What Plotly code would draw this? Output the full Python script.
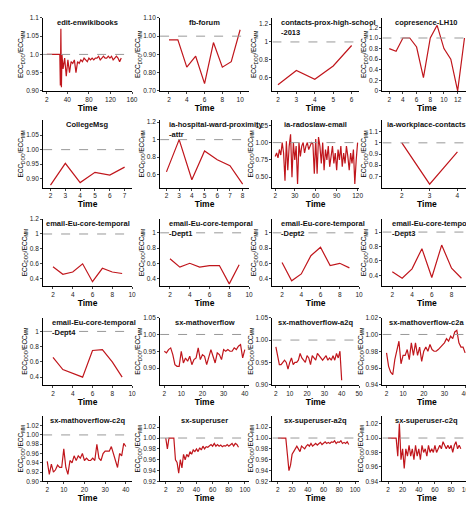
import plotly.graph_objects as go

RED = "#c0161c"

# ---- data ----
wiki_x_head = [2, 26, 27, 28, 29, 30]
wiki_y_head = [1.0, 1.0, 0.915, 1.07, 0.91, 1.0]
wiki_y_tail = [0.96, 0.99, 0.94, 0.985, 0.95, 0.98, 0.975, 0.985, 0.95, 0.98, 0.975, 0.985,
               0.98, 0.99, 0.985, 0.98, 0.99, 0.985, 0.99, 0.985, 0.99, 0.99, 0.995, 0.985,
               0.99, 0.995, 0.99, 0.99, 0.995, 0.99, 0.995, 0.985, 0.99, 0.995, 0.99, 0.98, 0.99]
fb_forum = [0.98, 0.98, 0.83, 0.89, 0.74, 0.965, 0.83, 0.86, 1.035]
contacts = [0.52, 0.68, 0.58, 0.73, 0.96]
copresence = [0.8, 0.75, 1.0, 1.0, 0.83, 0.25, 1.0, 1.24, 0.8, 0.6, 0.0, 1.0]
college = [0.878, 0.953, 0.887, 0.922, 0.913, 0.94]
hospital = [0.63, 1.0, 0.54, 0.87, 0.77, 0.7, 0.49]
radoslaw = [0.8, 0.85, 0.78, 0.9, 0.82, 1.0, 0.85, 0.45, 1.02, 0.6, 0.95, 1.12, 0.5, 1.0, 0.75,
            0.95, 0.4, 1.0, 0.8, 0.95, 1.0, 0.85, 0.95, 1.0, 0.9, 0.95, 1.0, 0.98, 0.55, 1.05,
            0.55, 1.08, 0.95, 0.7, 1.0, 0.6, 0.9, 0.75, 0.95, 0.65, 0.8, 0.95, 0.7, 0.85, 0.6,
            0.9, 0.75, 0.95, 0.65, 0.85, 0.7, 0.95, 0.8, 0.6, 0.85, 0.7, 0.9, 0.4, 0.75, 1.0]
workplace = [1.0, 0.63, 0.92]
eu_core = [0.56, 0.46, 0.49, 0.6, 0.36, 0.54, 0.49, 0.47]
dept1 = [0.66, 0.55, 0.6, 0.55, 0.57, 0.57, 0.33, 0.58]
dept2 = [0.61, 0.37, 0.46, 0.7, 0.81, 0.57, 0.6, 0.54]
dept3 = [0.45, 0.36, 0.49, 0.77, 0.37, 0.82, 0.5, 0.36]
dept4_x = [2, 3, 5, 6, 7, 8, 9]
dept4 = [0.66, 0.5, 0.4, 0.75, 0.76, 0.6, 0.4]
math = [.95, .945, .955, .96, .94, .91, .905, .905, .95, .915, .93, .92, .935, .91, .925, .93,
        .96, .925, .94, .935, .91, .93, .955, .935, .915, .945, .94, .925, .955, .95, .955, .95,
        .95, .96, .955, .965, .97, .93, .955]
math_a2q = [.985, .96, .945, .945, .95, .955, .95, .935, .95, .96, .945, .95, .95, .955, .97, .96,
            .955, .95, .965, .96, .945, .965, .96, .955, .97, .965, .96, .955, .96, .965, .955,
            .96, .955, .965, .955, .97, .96, .975, .91]
math_c2a = [.978, .962, .955, .952, .97, .98, .992, .965, .975, .975, .982, .97, .99, .975, .99,
            .975, .985, .968, .98, .985, .98, .988, .982, .98, .98, .982, .985, .988, .99, .995,
            .992, .998, .995, 1.003, 1.005, .99, .985, .985, .978]
math_c2q = [.943, .915, .937, .92, .925, .935, .93, .93, .97, .93, .915, .945, .94, .955, .945,
            .955, .95, .96, .945, .95, .945, .945, .95, .945, .98, .95, .945, .96, .965, .965,
            .965, .975, .96, .945, .93, .96, .955, .982, .975]
superuser = [1.0, 0.98, 1.0, 1.0, 1.0, 1.0, 0.96, 0.955, 0.935, 0.96, 0.945, 0.97, 0.96, 0.97,
             0.965, 0.975, 0.97, 0.978, 0.975, 0.98, 0.975, 0.982, 0.978, 0.985, 0.98, 0.984,
             0.983, 0.985, 0.988, 0.985, 0.99, 0.985, 0.988, 0.985, 0.987, 0.984, 0.986, 0.985,
             0.988, 0.985, 0.987, 0.99, 0.985, 0.99, 0.988, 0.983]
su_a2q = [1, 1, 1, 1, 1, 1, 0.97, 0.94, 0.95, 0.97, 0.975, 0.98, 0.985, 0.98, 0.975, 0.985,
          0.983, 0.98, 0.985, 0.988, 0.985, 0.99, 0.985, 0.988, 0.99, 0.987, 0.99, 0.992, 0.988,
          0.99, 0.993, 0.99, 0.992, 0.99, 0.993, 0.992, 0.995, 0.99, 0.993, 0.992, 0.995, 0.99,
          0.992, 0.99, 0.993, 0.988]
su_c2q = [1, 1, 1, 1, 1, 1, 0.975, 1.02, 0.97, 0.985, 0.958, 0.985, 0.975, 0.99, 0.975, 0.985,
          0.97, 0.99, 0.975, 0.985, 0.97, 0.99, 0.98, 0.985, 0.975, 0.99, 0.98, 0.985, 0.98, 0.99,
          0.98, 0.985, 0.99, 0.985, 0.995, 0.99, 0.985, 0.99, 0.985, 0.99, 0.98, 0.99, 0.995,
          0.985, 0.99, 0.985]


def steps(y, start=2, step=1):
    return [start + i * step for i in range(len(y))]


wiki_x = wiki_x_head + steps(wiki_y_tail, 32, 3)
wiki_y = wiki_y_head + wiki_y_tail

# (title, x, y, xrange, xticks, yrange, yticks, ytext)
panels = [
    ("edit-enwikibooks", wiki_x, wiki_y, [-5, 160], [2, 40, 80, 120, 160], [0.9, 1.1],
     [0.9, 0.95, 1.0, 1.05, 1.1], ["0.90", "0.95", "1.0", "1.05", "1.1"]),
    ("fb-forum", steps(fb_forum), fb_forum, [1, 11], [2, 4, 6, 8, 10], [0.7, 1.1],
     [0.7, 0.8, 0.9, 1.0, 1.1], ["0.70", "0.80", "0.90", "1.00", "1.10"]),
    ("contacts-prox-high-school<br>-2013", steps(contacts), contacts, [1.7, 6.4], [2, 3, 4, 5, 6],
     [0.45, 1.27], [0.6, 0.8, 1.0, 1.2], None),
    ("copresence-LH10", steps(copresence), copresence, [1, 14], [2, 4, 6, 8, 10, 12, 14],
     [0, 1.38], [0, 0.2, 0.4, 0.6, 0.8, 1.0, 1.2], ["0", "0.2", "0.4", "0.6", "0.8", "1.0", "1.2"]),
    ("CollegeMsg", steps(college), college, [1.5, 7.5], [2, 3, 4, 5, 6, 7], [0.87, 1.1],
     [0.9, 0.95, 1.0, 1.05], ["0.90", "0.95", "1.00", "1.05"]),
    ("ia-hospital-ward-proximity<br>-attr", steps(hospital), hospital, [1.5, 8.5],
     [2, 3, 4, 5, 6, 7, 8], [0.45, 1.22], [0.6, 0.8, 1.0, 1.2], None),
    ("ia-radoslaw-email", steps(radoslaw, 2, 2), radoslaw, [-2, 122], [2, 30, 60, 90, 120],
     [0.35, 1.32], [0.5, 0.75, 1.0, 1.25], ["0.50", "0.75", "1.00", "1.25"]),
    ("ia-workplace-contacts", steps(workplace), workplace, [1.3, 4.5], [2, 3, 4], [0.6, 1.2],
     [0.7, 0.8, 0.9, 1.0, 1.1], None),
    ("email-Eu-core-temporal", steps(eu_core), eu_core, [1, 10], [2, 4, 6, 8, 10], [0.3, 1.2],
     [0.4, 0.6, 0.8, 1.0, 1.2], None),
    ("email-Eu-core-temporal<br>-Dept1", steps(dept1), dept1, [1, 10], [2, 4, 6, 8, 10],
     [0.3, 1.18], [0.4, 0.6, 0.8, 1.0], None),
    ("email-Eu-core-temporal<br>-Dept2", steps(dept2), dept2, [1, 10], [2, 4, 6, 8, 10],
     [0.3, 1.18], [0.4, 0.6, 0.8, 1.0], None),
    ("email-Eu-core-temporal<br>-Dept3", steps(dept3), dept3, [1, 10], [2, 4, 6, 8, 10],
     [0.25, 1.18], [0.4, 0.6, 0.8, 1.0], None),
    ("email-Eu-core-temporal<br>-Dept4", dept4_x, dept4, [1, 10], [2, 4, 6, 8, 10],
     [0.3, 1.18], [0.4, 0.6, 0.8, 1.0], None),
    ("sx-mathoverflow", steps(math), math, [0, 42], [2, 10, 20, 30, 40], [0.85, 1.05],
     [0.9, 0.95, 1.0, 1.05], ["0.90", "0.95", "1.00", "1.05"]),
    ("sx-mathoverflow-a2q", steps(math_a2q), math_a2q, [0, 50], [2, 10, 20, 30, 40, 50],
     [0.9, 1.05], [0.9, 0.95, 1.0, 1.05], ["0.90", "0.95", "1.00", "1.05"]),
    ("sx-mathoverflow-c2a", steps(math_c2a), math_c2a, [0, 43], [2, 10, 20, 30, 40],
     [0.94, 1.02], [0.94, 0.96, 0.98, 1.0, 1.02], ["0.94", "0.96", "0.98", "1.00", "1.02"]),
    ("sx-mathoverflow-c2q", steps(math_c2q), math_c2q, [0, 43], [2, 10, 20, 30, 40],
     [0.9, 1.04], [0.9, 0.92, 0.94, 0.96, 0.98, 1.0, 1.02],
     ["0.90", "0.92", "0.94", "0.96", "0.98", "1.00", "1.02"]),
    ("sx-superuser", steps(superuser, 2, 2), superuser, [-5, 105], [2, 20, 40, 60, 80, 100],
     [0.92, 1.04], [0.92, 0.94, 0.96, 0.98, 1.0, 1.02],
     ["0.92", "0.94", "0.96", "0.98", "1.00", "1.02"]),
    ("sx-superuser-a2q", steps(su_a2q, 2, 2), su_a2q, [-5, 105], [2, 20, 40, 60, 80, 100],
     [0.92, 1.04], [0.92, 0.94, 0.96, 0.98, 1.0, 1.02],
     ["0.92", "0.94", "0.96", "0.98", "1.00", "1.02"]),
    ("sx-superuser-c2q", steps(su_c2q, 2, 2), su_c2q, [-5, 105], [2, 20, 40, 60, 80, 100],
     [0.94, 1.03], [0.94, 0.96, 0.98, 1.0, 1.02], ["0.94", "0.96", "0.98", "1.00", "1.02"]),
]

col_dom = [[0.075, 0.265], [0.325, 0.515], [0.565, 0.75], [0.8, 0.99]]
row_px = [(6, 80), (110, 178), (210, 278), (310, 378), (410, 476)]
H = 506

fig = go.Figure()
for i, (title, x, y, xr, xt, yr, yt, ytext) in enumerate(panels):
    r, c = divmod(i, 4)
    n = "" if i == 0 else str(i + 1)
    xa, ya = "x" + n, "y" + n
    fig.add_trace(go.Scatter(x=x, y=y, mode="lines", line=dict(color=RED, width=1.2),
                             xaxis=xa, yaxis=ya, showlegend=False))
    fig.add_trace(go.Scatter(x=xr, y=[1.0, 1.0], mode="lines",
                             line=dict(color="#999999", width=1, dash="dash"),
                             xaxis=xa, yaxis=ya, showlegend=False))
    top, bot = row_px[r]
    ax = dict(showline=True, linecolor="black", linewidth=1, ticks="outside", ticklen=2,
              showgrid=False, zeroline=False, tickfont=dict(size=6.5, color="#222"))
    fig.layout["xaxis" + n] = dict(ax, domain=col_dom[c], anchor=ya, range=xr, tickvals=xt,
                                   title=dict(text="<b>Time</b>", font=dict(size=8.5), standoff=0))
    fig.layout["yaxis" + n] = dict(ax, domain=[1 - bot / H, 1 - top / H], anchor=xa, range=yr,
                                   tickvals=yt, ticktext=ytext,
                                   title=dict(text="ECC<sub>DOO</sub>/ECC<sub>MM</sub>",
                                              font=dict(size=6.5), standoff=1))
    wrapped = "<br>" in title
    fig.add_annotation(text="<b>" + title + "</b>", xref=xa + " domain", yref=ya + " domain",
                       x=0.08 if wrapped else 0.5, xanchor="left" if wrapped else "center",
                       y=1.03, yanchor="top", showarrow=False, align="left",
                       font=dict(size=7.5, color="#111",
                                 family="Liberation Sans Narrow, Arial Narrow, sans-serif"))

fig.update_layout(width=474, height=506, margin=dict(l=0, r=0, t=0, b=0),
                  paper_bgcolor="white", plot_bgcolor="white",
                  font=dict(family="Liberation Sans, Arial, sans-serif", color="black"))
fig.write_html("out.html")
